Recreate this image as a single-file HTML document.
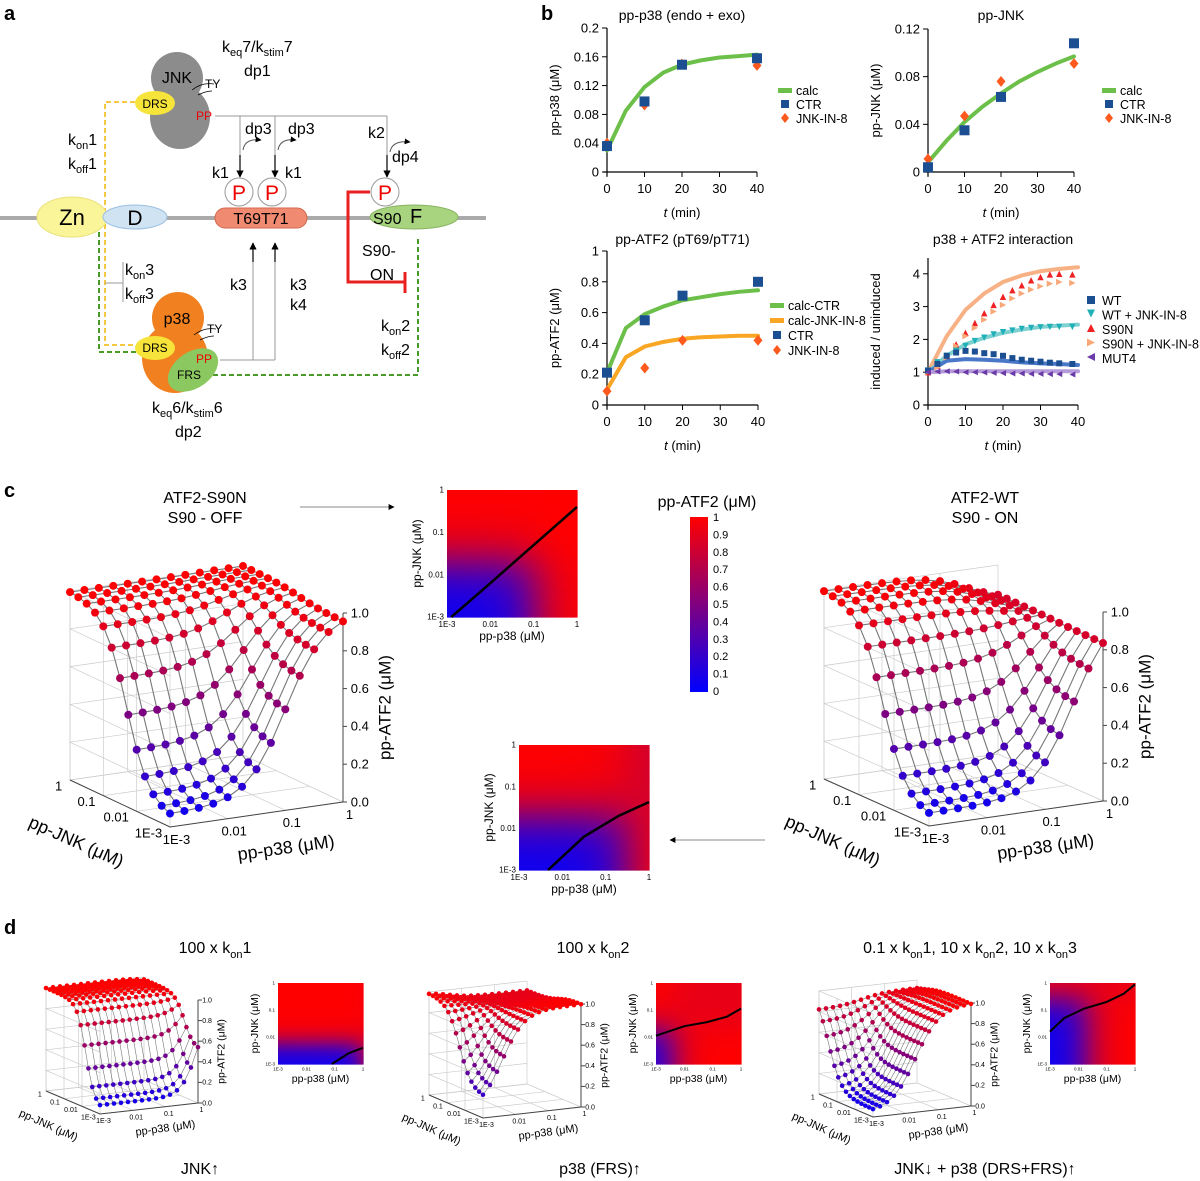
<!DOCTYPE html>
<html><head><meta charset="utf-8"><style>
body{margin:0;background:#fff}
svg{display:block;font-family:"Liberation Sans",Arial,sans-serif}
</style></head><body>
<svg id="fig" xmlns="http://www.w3.org/2000/svg" width="1200" height="1181" viewBox="0 0 1200 1181">
<defs>
<marker id="ah" viewBox="0 0 10 10" refX="9" refY="5" markerWidth="6" markerHeight="6" orient="auto"><path d="M0,0L10,5L0,10z" fill="#000"/></marker>
<linearGradient id="cbar" x1="0" y1="1" x2="0" y2="0"><stop offset="0" stop-color="#0000ff"/><stop offset="0.5" stop-color="#800080"/><stop offset="1" stop-color="#ff0000"/></linearGradient>
</defs>
<g font-weight="bold" font-size="20">
<text x="4" y="20">a</text><text x="541" y="20">b</text><text x="4" y="497">c</text><text x="4" y="934">d</text>
</g>

<!-- PANEL A -->
<g font-size="16">
<line x1="0" y1="218" x2="486" y2="218" stroke="#aaa" stroke-width="4"/>
<path d="M135,102H105V345H137" fill="none" stroke="#f5c842" stroke-width="2" stroke-dasharray="5,3"/>
<path d="M99,232V352H137" fill="none" stroke="#4a9a2a" stroke-width="2" stroke-dasharray="5,3"/>
<path d="M205,375H418V237" fill="none" stroke="#4a9a2a" stroke-width="2" stroke-dasharray="5,3"/>
<ellipse cx="72" cy="217" rx="35" ry="20" fill="#fbf59a" stroke="#e9e17a"/>
<ellipse cx="135" cy="217" rx="32" ry="12" fill="#cfe3f3" stroke="#9cc0e0"/>
<rect x="215" y="208" width="92" height="20" rx="10" fill="#f08a70" stroke="#d06a50"/>
<ellipse cx="414" cy="217" rx="44" ry="12" fill="#a8d480" stroke="#88b460"/>
<text x="72" y="225" font-size="22" text-anchor="middle">Zn</text>
<text x="135" y="225" font-size="21" text-anchor="middle">D</text>
<text x="261" y="224" font-size="16" text-anchor="middle">T69T71</text>
<text x="373" y="224" font-size="16">S90</text><text x="410" y="223" font-size="20">F</text>
<g>
<circle cx="177" cy="78" r="26" fill="#8c8c8c"/><ellipse cx="180" cy="117" rx="30" ry="32" fill="#8c8c8c"/>
<ellipse cx="155" cy="103" rx="20" ry="12" fill="#f7e43a"/>
<text x="177" y="83" text-anchor="middle" font-size="16">JNK</text>
<text x="155" y="108" text-anchor="middle" font-size="12">DRS</text>
<text x="205" y="88" font-size="12">TY</text>
<path d="M192,90q10,-8 22,-6M198,95q8,-4 14,-4" fill="none" stroke="#000" stroke-width="0.8"/>
<text x="196" y="120" font-size="12" fill="#e00">PP</text>
</g>
<g>
<circle cx="178" cy="318" r="26" fill="#f08020"/><ellipse cx="175" cy="358" rx="33" ry="35" fill="#f08020"/>
<ellipse cx="193" cy="370" rx="28" ry="18" fill="#8cc860" transform="rotate(-35 193 370)"/>
<ellipse cx="155" cy="348" rx="20" ry="12" fill="#f7e43a"/>
<text x="177" y="324" text-anchor="middle" font-size="16">p38</text>
<text x="155" y="352" text-anchor="middle" font-size="12">DRS</text>
<text x="189" y="379" text-anchor="middle" font-size="12">FRS</text>
<text x="207" y="333" font-size="12">TY</text>
<path d="M194,335q10,-8 22,-6M200,340q8,-4 14,-4" fill="none" stroke="#000" stroke-width="0.8"/>
<text x="196" y="363" font-size="12" fill="#e00">PP</text>
</g>
<path d="M215,116H387M240,116V160M275,116V160M387,116V160" fill="none" stroke="#999" stroke-width="1"/>
<line x1="240" y1="155" x2="240" y2="177" stroke="#000" stroke-width="1.2" marker-end="url(#ah)"/>
<line x1="275" y1="155" x2="275" y2="177" stroke="#000" stroke-width="1.2" marker-end="url(#ah)"/>
<line x1="387" y1="155" x2="387" y2="177" stroke="#000" stroke-width="1.2" marker-end="url(#ah)"/>
<path d="M243,150q2,-12 18,-10" fill="none" stroke="#555" marker-end="url(#ah)"/>
<path d="M278,150q2,-12 18,-10" fill="none" stroke="#555" marker-end="url(#ah)"/>
<path d="M390,152q2,-12 20,-10" fill="none" stroke="#555" marker-end="url(#ah)"/>
<path d="M220,360H275M253,360V250M275,360V250" fill="none" stroke="#999" stroke-width="1"/>
<line x1="253" y1="262" x2="253" y2="243" stroke="#000" stroke-width="1.2" marker-end="url(#ah)"/>
<line x1="275" y1="262" x2="275" y2="243" stroke="#000" stroke-width="1.2" marker-end="url(#ah)"/>
<path d="M105,283H123M123,262V302" stroke="#999" fill="none"/>
<circle cx="239" cy="192" r="14" fill="#fff" stroke="#999"/>
<circle cx="272" cy="192" r="14" fill="#fff" stroke="#999"/>
<circle cx="385" cy="192" r="14" fill="#fff" stroke="#999"/>
<g fill="#e00" font-size="21" text-anchor="middle"><text x="239" y="200">P</text><text x="272" y="200">P</text><text x="385" y="200">P</text></g>
<path d="M370,192H348V282H405M405,272V293" fill="none" stroke="#e82020" stroke-width="3"/>
<text x="222" y="52">k<tspan font-size="11" dy="4">eq</tspan><tspan dy="-4">7/k</tspan><tspan font-size="11" dy="4">stim</tspan><tspan dy="-4">7</tspan></text>
<text x="244" y="76">dp1</text>
<text x="245" y="134">dp3</text><text x="288" y="134">dp3</text><text x="368" y="138">k2</text><text x="392" y="162">dp4</text>
<text x="212" y="178">k1</text><text x="285" y="178">k1</text>
<text x="68" y="145">k<tspan font-size="11" dy="4">on</tspan><tspan dy="-4">1</tspan></text>
<text x="68" y="169">k<tspan font-size="11" dy="4">off</tspan><tspan dy="-4">1</tspan></text>
<text x="125" y="275">k<tspan font-size="11" dy="4">on</tspan><tspan dy="-4">3</tspan></text>
<text x="125" y="299">k<tspan font-size="11" dy="4">off</tspan><tspan dy="-4">3</tspan></text>
<text x="230" y="290">k3</text><text x="290" y="290">k3</text><text x="290" y="310">k4</text>
<text x="362" y="256">S90-</text><text x="370" y="280">ON</text>
<text x="381" y="331">k<tspan font-size="11" dy="4">on</tspan><tspan dy="-4">2</tspan></text>
<text x="381" y="355">k<tspan font-size="11" dy="4">off</tspan><tspan dy="-4">2</tspan></text>
<text x="152" y="413">k<tspan font-size="11" dy="4">eq</tspan><tspan dy="-4">6/k</tspan><tspan font-size="11" dy="4">stim</tspan><tspan dy="-4">6</tspan></text>
<text x="175" y="437">dp2</text>
</g>

<!-- PANEL C static -->
<g font-size="16" text-anchor="middle">
<text x="205" y="503">ATF2-S90N</text><text x="205" y="523">S90 - OFF</text>
<text x="985" y="503">ATF2-WT</text><text x="985" y="523">S90 - ON</text>
<text x="707" y="507">pp-ATF2 (μM)</text>
</g>
<line x1="300" y1="507" x2="394" y2="507" stroke="#888" marker-end="url(#ah)"/>
<line x1="765" y1="840" x2="670" y2="840" stroke="#888" marker-end="url(#ah)"/>
<g>
<rect x="690" y="517" width="18" height="175" fill="url(#cbar)"/>
<g id="cbarlabels" font-size="11"></g>
</g>
<g font-size="16" text-anchor="middle">
<text x="215" y="953">100 x k<tspan font-size="11" dy="5">on</tspan><tspan dy="-5">1</tspan></text>
<text x="593" y="953">100 x k<tspan font-size="11" dy="5">on</tspan><tspan dy="-5">2</tspan></text>
<text x="970" y="953">0.1 x k<tspan font-size="11" dy="5">on</tspan><tspan dy="-5">1, 10 x k</tspan><tspan font-size="11" dy="5">on</tspan><tspan dy="-5">2, 10 x k</tspan><tspan font-size="11" dy="5">on</tspan><tspan dy="-5">3</tspan></text>
<text x="200" y="1174">JNK↑</text><text x="600" y="1174">p38 (FRS)↑</text><text x="985" y="1174">JNK↓ + p38 (DRS+FRS)↑</text>
</g>
<g id="dyn"></g>
</svg>
<script>
// ---------- Panel b data ----------
const tCurve=[0,5,10,15,20,25,30,35,40];
const tData=[0,10,20,40];
const tInt=[0,2.5,5,7.5,10,12.5,15,17.5,20,22.5,25,27.5,30,32.5,35,38.5];
const p38Calc=[0.03,0.085,0.118,0.138,0.149,0.155,0.159,0.161,0.163];
const p38Ctr=[0.036,0.098,0.149,0.158];
const p38Jnk8=[0.04,0.093,0.150,0.148];
const jnkCalc=[0.008,0.026,0.042,0.055,0.066,0.076,0.084,0.091,0.097];
const jnkCtr=[0.004,0.035,0.063,0.108];
const jnkJnk8=[0.011,0.047,0.076,0.091];
const atfCalcCtr=[0.21,0.50,0.59,0.64,0.68,0.70,0.72,0.735,0.745];
const atfCalcJnk8=[0.10,0.31,0.38,0.41,0.43,0.44,0.445,0.45,0.45];
const atfCtr=[0.21,0.55,0.71,0.80];
const atfJnk8=[0.09,0.24,0.42,0.42];
const wtCurve=[1,1.35,1.40,1.38,1.35,1.30,1.27,1.25,1.22];
const wtJCurve=[1,1.5,1.85,2.05,2.2,2.3,2.38,2.42,2.45];
const s90Curve=[1,2.1,2.9,3.4,3.75,3.95,4.08,4.15,4.2];
const mutCurve=[1,1.03,1.03,1.03,1.03,1.03,1.03,1.03,1.03];
const wtPts=[1.05,1.25,1.5,1.6,1.65,1.63,1.58,1.55,1.5,1.43,1.38,1.35,1.32,1.29,1.27,1.25];
const wtJPts=[1.05,1.3,1.5,1.65,1.8,1.95,2.05,2.15,2.22,2.27,2.32,2.35,2.37,2.38,2.38,2.38];
const s90Pts=[1.0,1.2,1.5,1.85,2.2,2.5,2.8,3.05,3.3,3.5,3.65,3.8,3.9,3.98,4.0,3.98];
const s90JPts=[1.0,1.15,1.45,1.8,2.1,2.35,2.6,2.85,3.05,3.25,3.4,3.52,3.62,3.7,3.75,3.72];
const mutPts=[1,1.02,1.03,1.02,1.0,1.0,0.99,0.98,0.97,0.96,0.96,0.95,0.95,0.94,0.94,0.93];
const xTicks=[0,10,20,30,40];
const p38Ticks=[0,0.04,0.08,0.12,0.16,0.2];
const jnkTicks=[0,0.04,0.08,0.12];
const atfTicks=[0,0.2,0.4,0.6,0.8,1];
const intTicks=[0,1,2,3,4];
// ---------- Panels c/d model parameters ----------
const logTicks=["1E-3","0.01","0.1","1"];
const zTicks=[0,0.2,0.4,0.6,0.8,1.0];
const cbarTicks=[1,0.9,0.8,0.7,0.6,0.5,0.4,0.3,0.2,0.1,0];
// [Kjnk, Kp38, hill, dip, base]
const modelS90N=[0.02,0.1,1.3,0,0.05];
const modelWT=[0.02,0.3,1.3,0.2,0.05];
const modelD1=[0.006,1,1.8,0.05,0.05];
const modelD2=[0.02,0.004,1.3,0.1,0.08];
const modelD3=[0.3,0.02,1.2,0.1,0.05];
// contour lines in (log10 p38, log10 JNK)
const lineCTop=[[-2.9,-3],[-2,-2.2],[-1,-1.3],[0,-0.4]];
const lineCBot=[[-2.33,-3],[-1.5,-2.2],[-0.7,-1.7],[0,-1.37]];
const lineD1=[[-1.1,-3],[-0.5,-2.6],[0,-2.4]];
const lineD2=[[-3,-1.95],[-2,-1.6],[-1.2,-1.45],[-0.5,-1.25],[0,-0.95]];
const lineD3=[[-3,-1.8],[-2.5,-1.3],[-1.8,-0.95],[-1,-0.7],[-0.4,-0.4],[0,-0.05]];

const NS="http://www.w3.org/2000/svg";
const root=document.getElementById('dyn');
function mk(tag,attrs,parent,name){
  const el=document.createElementNS(NS,tag);
  for(const k in attrs) el.setAttribute(k,attrs[k]);
  
  
  (parent||root).appendChild(el);return el;
}
function txt(x,y,s,size,parent,name,extra){
  const e=mk('text',Object.assign({x:x,y:y,'font-size':size},extra||{}),parent,name);e.textContent=s;return e;
}
function fmt(v){return v===0?"0":String(v);}

function chart(cfg){
  const g=mk('g',{},root,cfg.name);
  const X=t=>cfg.x0+(cfg.x1-cfg.x0)*t/40;
  const Y=v=>cfg.y0-(cfg.y0-cfg.y1)*v/cfg.ymax;
  const top=cfg.atop||cfg.y1;
  mk('path',{d:`M${cfg.x0},${top}V${cfg.y0+4}M${cfg.x0-4},${cfg.y0}H${cfg.x1}`,stroke:'#000',fill:'none','stroke-width':1.2},g,'axes');
  xTicks.forEach(t=>{mk('line',{x1:X(t),x2:X(t),y1:cfg.y0,y2:cfg.y0+5,stroke:'#000'},g,'x-tick');
    txt(X(t),cfg.y0+21,String(t),13,g,'x-tick-label',{'text-anchor':'middle'});});
  cfg.yt.forEach(v=>{mk('line',{x1:cfg.x0-5,x2:cfg.x0,y1:Y(v),y2:Y(v),stroke:'#000'},g,'y-tick');
    txt(cfg.x0-8,Y(v)+4.5,fmt(v),13,g,'y-tick-label',{'text-anchor':'end'});});
  const xl=txt((cfg.x0+cfg.x1)/2,cfg.y0+45,'',13,g,'x-axis-title',{'text-anchor':'middle'});
  xl.innerHTML='<tspan font-style="italic">t</tspan> (min)';
  txt((cfg.x0+cfg.x1)/2,cfg.ty,cfg.title,14,g,'chart-title',{'text-anchor':'middle'});
  const cy=(cfg.y0+top)/2;
  txt(cfg.x0-48,cy,cfg.ylab,13,g,'y-axis-title',{'text-anchor':'middle',transform:`rotate(-90 ${cfg.x0-48} ${cy})`});
  cfg.lines.forEach(l=>{
    mk('polyline',{points:l.ts.map((t,i)=>X(t)+','+Y(l.v[i])).join(' '),fill:'none',stroke:l.c,'stroke-width':l.w||4,'stroke-linecap':'round','stroke-opacity':l.o||1},g,'line-'+l.n);
  });
  cfg.pts.forEach(p=>{
    p.v.forEach((v,i)=>{const x=X(p.ts[i]),y=Y(v),s=p.s;
      let d;
      if(p.m==='sq') d=`M${x-s},${y-s}h${2*s}v${2*s}h${-2*s}z`;
      else if(p.m==='di') d=`M${x},${y-s*1.2}l${s},${s*1.2}l${-s},${s*1.2}l${-s},${-s*1.2}z`;
      else if(p.m==='up') d=`M${x},${y-s}l${s},${2*s}h${-2*s}z`;
      else if(p.m==='dn') d=`M${x-s},${y-s}h${2*s}l${-s},${2*s}z`;
      else if(p.m==='rt') d=`M${x-s},${y-s}l${2*s},${s}l${-2*s},${s}z`;
      else d=`M${x+s},${y-s}l${-2*s},${s}l${2*s},${s}z`;
      mk('path',{d:d,fill:p.c},g,'point-'+p.n);});
  });
  cfg.legend.forEach((l,i)=>{const y=cfg.ly+i*cfg.lg;
    if(l.t==='line') mk('rect',{x:cfg.lx,y:y-4,width:14,height:5,fill:l.c},g,'legend-swatch');
    else{const s=4,x=cfg.lx+7;let d;
      if(l.t==='sq') d=`M${x-s},${y-s-2}h${2*s}v${2*s}h${-2*s}z`;
      else if(l.t==='di') d=`M${x},${y-7}l${s},${5}l${-s},${5}l${-s},-5z`;
      else if(l.t==='up') d=`M${x},${y-7}l${s},${8}h${-2*s}z`;
      else if(l.t==='dn') d=`M${x-s},${y-7}h${2*s}l${-s},${8}z`;
      else if(l.t==='rt') d=`M${x-s},${y-7}l${2*s},${4}l${-2*s},${4}z`;
      else d=`M${x+s},${y-7}l${-2*s},${4}l${2*s},${4}z`;
      mk('path',{d:d,fill:l.c},g,'legend-marker');}
    txt(cfg.lx+18,y+3,l.s,12.5,g,'legend-entry');
  });
}
const G='#6cc04a',BL='#1c4f92',OR='#ff5a1e';
chart({name:'chart-pp-p38',x0:607,x1:757,y0:172,y1:28,ymax:0.2,yt:p38Ticks,ty:20,title:'pp-p38 (endo + exo)',ylab:'pp-p38 (μM)',
 lines:[{ts:tCurve,v:p38Calc,c:G,n:'calc'}],
 pts:[{ts:tData,v:p38Jnk8,c:OR,m:'di',s:4.5,n:'jnk-in-8'},{ts:tData,v:p38Ctr,c:BL,m:'sq',s:5,n:'ctr'}],
 lx:778,ly:92,lg:14,legend:[{t:'line',c:G,s:'calc'},{t:'sq',c:BL,s:'CTR'},{t:'di',c:OR,s:'JNK-IN-8'}]});
chart({name:'chart-pp-jnk',x0:928,x1:1074,y0:172,y1:29,ymax:0.12,yt:jnkTicks,ty:20,title:'pp-JNK',ylab:'pp-JNK (μM)',
 lines:[{ts:tCurve,v:jnkCalc,c:G,n:'calc'}],
 pts:[{ts:tData,v:jnkJnk8,c:OR,m:'di',s:4.5,n:'jnk-in-8'},{ts:tData,v:jnkCtr,c:BL,m:'sq',s:5,n:'ctr'}],
 lx:1102,ly:92,lg:14,legend:[{t:'line',c:G,s:'calc'},{t:'sq',c:BL,s:'CTR'},{t:'di',c:OR,s:'JNK-IN-8'}]});
chart({name:'chart-pp-atf2',x0:607,x1:758,y0:405,y1:251,ymax:1,yt:atfTicks,ty:244,title:'pp-ATF2 (pT69/pT71)',ylab:'pp-ATF2 (μM)',
 lines:[{ts:tCurve,v:atfCalcCtr,c:G,n:'calc-ctr'},{ts:tCurve,v:atfCalcJnk8,c:'#f8a623',n:'calc-jnk-in-8'}],
 pts:[{ts:tData,v:atfJnk8,c:OR,m:'di',s:4.5,n:'jnk-in-8'},{ts:tData,v:atfCtr,c:BL,m:'sq',s:5,n:'ctr'}],
 lx:770,ly:307,lg:15,legend:[{t:'line',c:G,s:'calc-CTR'},{t:'line',c:'#f8a623',s:'calc-JNK-IN-8'},{t:'sq',c:BL,s:'CTR'},{t:'di',c:OR,s:'JNK-IN-8'}]});
chart({name:'chart-p38-atf2-interaction',x0:928,x1:1078,y0:405,y1:241,atop:258,ymax:5,yt:intTicks,ty:244,title:'p38 + ATF2 interaction',ylab:'induced / uninduced',
 lines:[{ts:tCurve,v:s90Curve,c:'#f6a878',n:'s90n-calc',o:0.9},{ts:tCurve,v:wtJCurve,c:'#7fd0d0',n:'wt-jnk-calc'},{ts:tCurve,v:wtCurve,c:'#4a78c8',n:'wt-calc'},{ts:tCurve,v:mutCurve,c:'#b49ad8',n:'mut4-calc'}],
 pts:[{ts:tInt,v:s90Pts,c:'#ee2222',m:'up',s:3.2,n:'s90n'},{ts:tInt,v:s90JPts,c:'#f8a878',m:'rt',s:3.2,n:'s90n-jnk'},{ts:tInt,v:wtJPts,c:'#20b0b8',m:'dn',s:3.2,n:'wt-jnk'},{ts:tInt,v:wtPts,c:BL,m:'sq',s:3,n:'wt'},{ts:tInt,v:mutPts,c:'#6a3aa8',m:'lt',s:3,n:'mut4'}],
 lx:1084,ly:302,lg:14.5,legend:[{t:'sq',c:BL,s:'WT'},{t:'dn',c:'#20b0b8',s:'WT + JNK-IN-8'},{t:'up',c:'#ee2222',s:'S90N'},{t:'rt',c:'#f8a878',s:'S90N + JNK-IN-8'},{t:'lt',c:'#6a3aa8',s:'MUT4'}]});

// ---------- c / d ----------
function zval(m,lp,lj){
  const P=Math.pow(10,lp),J=Math.pow(10,lj),h=m[2];
  const zj=Math.pow(J,h)/(Math.pow(J,h)+Math.pow(m[0],h));
  const zp=Math.pow(P,h)/(Math.pow(P,h)+Math.pow(m[1],h));
  let z=1-(1-zj)*(1-zp)-m[3]*zj*zp;
  return m[4]+(1-m[4])*z;
}
function col(v){v=Math.max(0,Math.min(1,v));
  return `rgb(${Math.round(255*v)},0,${Math.round(255*(1-v))})`;}

function heatmap(x,y,w,h,m,line,fs,tfs,yoff,name){
  const g=mk('g',{},root,name);
  const n=40;
  for(let i=0;i<n;i++)for(let j=0;j<n;j++){
    const lp=-3+3*(i+0.5)/n,lj=-3+3*(j+0.5)/n;
    mk('rect',{x:x+w*i/n,y:y+h-h*(j+1)/n,width:w/n+0.6,height:h/n+0.6,fill:col(zval(m,lp,lj))},g,'heatmap-cell');
  }
  const X=lp=>x+w*(lp+3)/3,Y=lj=>y+h-h*(lj+3)/3;
  mk('polyline',{points:line.map(p=>X(p[0])+','+Y(p[1])).join(' '),fill:'none',stroke:'#000','stroke-width':fs>6?2.5:2},g,'contour-line');
  logTicks.forEach((s,i)=>{
    txt(X(-3+i),y+h+fs+2,s,fs,g,'x-tick-label',{'text-anchor':'middle'});
    txt(x-3,Y(-3+i)+fs/3,s,fs,g,'y-tick-label',{'text-anchor':'end'});
  });
  txt(x+w/2,y+h+fs+tfs+3,'pp-p38 (μM)',tfs,g,'x-axis-title',{'text-anchor':'middle'});
  const yx=x-yoff,yy=y+h/2;
  txt(yx,yy,'pp-JNK (μM)',tfs,g,'y-axis-title',{'text-anchor':'middle',transform:`rotate(-90 ${yx} ${yy})`});
}

function surface(O,a,b,zh,m,n,r,fs,tfs,name){
  const g=mk('g',{},root,name);
  const P=(u,v,z)=>[O[0]+a[0]*u+b[0]*v,O[1]+a[1]*u+b[1]*v-zh*z];
  const wall=mk('g',{stroke:'#ccc','stroke-width':0.7,fill:'none'},g,'back-walls');
  zTicks.forEach(z=>{const p1=P(0,0,z),p2=P(0,1,z),p3=P(1,1,z);
    mk('polyline',{points:`${p1} ${p2} ${p3}`},wall,'wall-gridline');});
  [0,1/3,2/3,1].forEach(t=>{
    let p1=P(t,1,0),p2=P(t,1,1);mk('line',{x1:p1[0],y1:p1[1],x2:p2[0],y2:p2[1]},wall,'wall-gridline');
    p1=P(0,t,0);p2=P(0,t,1);mk('line',{x1:p1[0],y1:p1[1],x2:p2[0],y2:p2[1]},wall,'wall-gridline');
    p1=P(t,0,0);p2=P(t,1,0);mk('line',{x1:p1[0],y1:p1[1],x2:p2[0],y2:p2[1]},wall,'floor-gridline');
    p1=P(0,t,0);p2=P(1,t,0);mk('line',{x1:p1[0],y1:p1[1],x2:p2[0],y2:p2[1]},wall,'floor-gridline');
  });
  const e1=P(0,0,0),e2=P(1,0,0),e3=P(0,1,0);
  mk('polyline',{points:`${e3} ${e1} ${e2}`,fill:'none',stroke:'#444'},g,'base-axes');
  const za=P(1,0,0),zb=P(1,0,1);
  mk('line',{x1:za[0],y1:za[1],x2:zb[0],y2:zb[1],stroke:'#444'},g,'z-axis');
  zTicks.forEach(z=>{const p=P(1,0,z);
    mk('line',{x1:p[0],y1:p[1],x2:p[0]+4,y2:p[1],stroke:'#444'},g,'z-tick');
    txt(p[0]+fs*0.6,p[1]+fs/3,z.toFixed(1),fs,g,'z-tick-label');});
  const ax=P(1,0,0.5),tx=ax[0]+fs*2.6+tfs*0.8;
  txt(tx,ax[1],'pp-ATF2 (μM)',tfs,g,'z-axis-title',{'text-anchor':'middle',transform:`rotate(-90 ${tx} ${ax[1]})`});
  logTicks.forEach((s,i)=>{
    let p=P(i/3,0,0);txt(p[0]+fs*0.5,p[1]+fs*1.3,s,fs,g,'p38-tick-label',{'text-anchor':'middle'});
    p=P(0,i/3,0);txt(p[0]-fs*0.6,p[1]+fs*0.8,s,fs,g,'jnk-tick-label',{'text-anchor':'end'});
  });
  const pa=P(0.6,0,0),pb=P(0,0.5,0);
  txt(pa[0]+fs,pa[1]+fs*1.5+tfs*1.3,'pp-p38 (μM)',tfs*1.05,g,'p38-axis-title',{'text-anchor':'middle',transform:`rotate(-8 ${pa[0]+fs} ${pa[1]+fs*1.5+tfs*1.3})`});
  const bx=pb[0]-fs*2.5-tfs*0.8,by=pb[1]+fs+tfs*1.8;
  txt(bx,by,'pp-JNK (μM)',tfs*1.05,g,'jnk-axis-title',{'text-anchor':'middle',transform:`rotate(24 ${bx} ${by})`});
  const Z=[];for(let i=0;i<n;i++){Z.push([]);for(let j=0;j<n;j++)Z[i].push(zval(m,-3+3*i/(n-1),-3+3*j/(n-1)));}
  const mesh=mk('g',{fill:'none',stroke:'#777','stroke-width':r>3?1.1:0.6},g,'surface-mesh');
  for(let i=0;i<n;i++){
    mk('polyline',{points:Z[i].map((z,j)=>P(i/(n-1),j/(n-1),z).join(',')).join(' ')},mesh,'mesh-line');
    mk('polyline',{points:Z.map((row,k)=>P(k/(n-1),i/(n-1),row[i]).join(',')).join(' ')},mesh,'mesh-line');
  }
  for(let j=n-1;j>=0;j--)for(let i=0;i<n;i++){
    const p=P(i/(n-1),j/(n-1),Z[i][j]);
    mk('circle',{cx:p[0],cy:p[1],r:r,fill:col(Z[i][j])},g,'surface-point');
  }
}
heatmap(447,490,130,127,modelS90N,lineCTop,8,12,26,'heatmap-s90n');
heatmap(519,745,130,125,modelWT,lineCBot,8,12,26,'heatmap-wt');
surface([170,827],[173,-25],[-100,-47],189,modelS90N,13,4,13,17,'surface-s90n');
surface([929,826],[174,-25],[-105,-47],189,modelWT,13,4,13,17,'surface-wt');
const dOrigins=[[100,1114],[483,1118],[873,1117]];
const dModels=[modelD1,modelD2,modelD3];
const dLines=[lineD1,lineD2,lineD3];
const dHeat=[[278,983],[656,983],[1050,983]];
dOrigins.forEach((o,k)=>{
  surface(o,[98,-11],[-54,-23],103,dModels[k],15,2.3,7,10.5,'surface-d'+(k+1));
  heatmap(dHeat[k][0],dHeat[k][1],85,81,dModels[k],dLines[k],4.5,10.5,20,'heatmap-d'+(k+1));
});
const cb=document.getElementById('cbarlabels');
cbarTicks.forEach((v,i)=>{txt(713,521+i*17.4,fmt(v),11,cb,'colorbar-label');});
</script>
</body></html>
